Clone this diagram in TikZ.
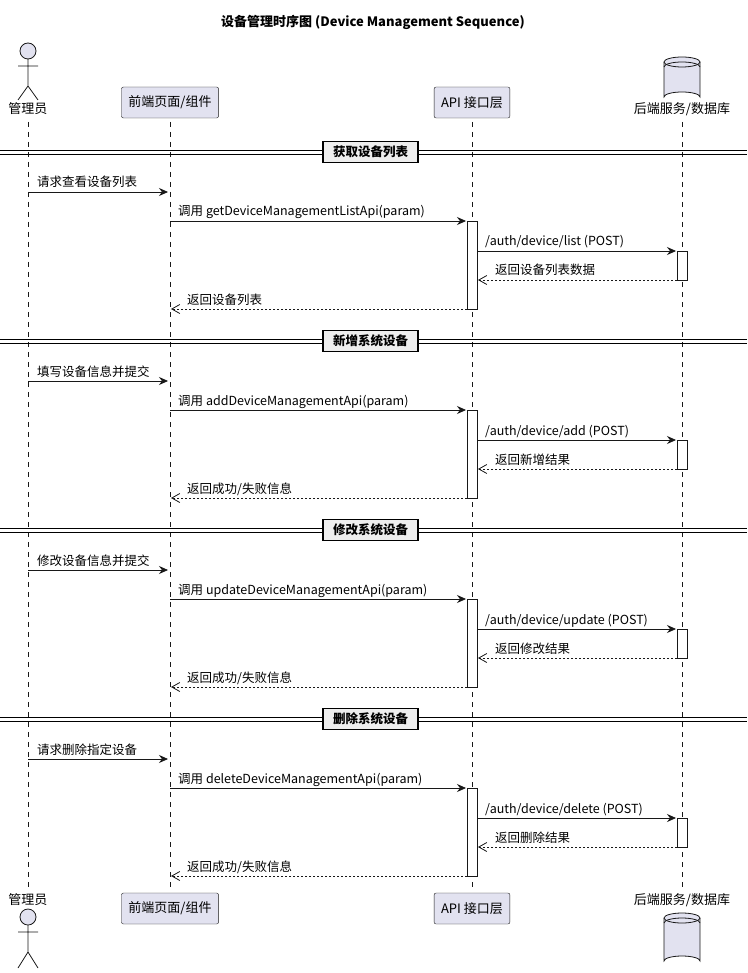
\documentclass[tikz,border=0pt]{standalone}
\usepackage{fontspec}
\setmainfont{Noto Sans CJK SC}
\usetikzlibrary{arrows.meta,shapes.geometric}
\definecolor{pfill}{HTML}{E2E2F0}
\definecolor{pline}{HTML}{181818}
\definecolor{dfill}{HTML}{EEEEEE}
\def\sl{/}
\tikzset{
 part/.style={draw=pline,fill=pfill,rounded corners=2pt,minimum height=31pt,inner xsep=7pt,font=\fontsize{13}{15}\selectfont},
 life/.style={draw=pline,dash pattern=on 5pt off 5pt,line width=0.5pt},
 msg/.style={draw=pline,line width=0.8pt,-{Stealth[length=9pt,width=8pt,inset=3pt]}},
 ret/.style={draw=pline,line width=0.8pt,dash pattern=on 2pt off 2pt,-{Straight Barb[length=8pt,width=9pt]}},
 lab/.style={font=\fontsize{12.5}{14}\selectfont,anchor=base west,inner sep=0pt},
 act/.style={draw=pline,fill=white,line width=0.8pt},
 divbox/.style={draw=black,fill=dfill,line width=1.2pt,font=\bfseries\fontsize{12.5}{14}\selectfont,minimum width=95pt,minimum height=21pt,inner sep=2pt},
 actlab/.style={font=\fontsize{13}{15}\selectfont}
}
\begin{document}
\begin{tikzpicture}[x=1pt,y=-1pt]
\useasboundingbox (0,0) rectangle (747,973);
\node[font=\bfseries\fontsize{13}{15}\selectfont] (title) at (373,22) {设备管理时序图 (Device Management Sequence)};
% lifelines
\foreach \x in {28,170,472,682}{\draw[life] (\x,122) -- (\x,888);}
% top participants
\node[part] (fe) at (170,102.5) {前端页面/组件};
\node[part] (api) at (472,102.5) {API 接口层};
\node[actlab] (adm) at (28,109) {管理员};
\node[actlab] (db) at (682,109) {后端服务/数据库};
\draw[pline,fill=pfill,line width=0.8pt] (28,51) circle (8);
\draw[pline,line width=0.8pt] (28,59)--(28,86) (18,66)--(38,66) (18,100)--(28,86)--(38,100);
\draw[pline,fill=pfill,line width=0.8pt] (664,62) -- (664,97) arc[start angle=180,end angle=360,x radius=18,y radius=5] -- (700,62);
\draw[pline,fill=pfill,line width=0.8pt] (682,62) ellipse[x radius=18,y radius=5];
\draw[pline,line width=0.8pt] (664,67) arc[start angle=180,end angle=360,x radius=18,y radius=5];
% bottom participants
\node[part] (fe2) at (170,908.5) {前端页面/组件};
\node[part] (api2) at (472,908.5) {API 接口层};
\node[actlab] (adm2) at (28,900) {管理员};
\node[actlab] (db2) at (682,900) {后端服务/数据库};
\draw[pline,fill=pfill,line width=0.8pt] (28,917) circle (8);
\draw[pline,line width=0.8pt] (28,925)--(28,952) (18,932)--(38,932) (18,968)--(28,952)--(38,968);
\draw[pline,fill=pfill,line width=0.8pt] (664,918) -- (664,961) arc[start angle=180,end angle=360,x radius=18,y radius=5] -- (700,918);
\draw[pline,fill=pfill,line width=0.8pt] (682,918) ellipse[x radius=18,y radius=5];
\draw[pline,line width=0.8pt] (664,923) arc[start angle=180,end angle=360,x radius=18,y radius=5];
% sections
\foreach \s/\t/\a/\b/\c/\d [count=\i from 0] in {
 获取设备列表/请求查看设备列表/getDeviceManagementListApi/list/返回设备列表数据/返回设备列表,
 新增系统设备/填写设备信息并提交/addDeviceManagementApi/add/返回新增结果/返回成功\sl 失败信息,
 修改系统设备/修改设备信息并提交/updateDeviceManagementApi/update/返回修改结果/返回成功\sl 失败信息,
 删除系统设备/请求删除指定设备/deleteDeviceManagementApi/delete/返回删除结果/返回成功\sl 失败信息}{
 \pgfmathsetmacro{\o}{189*\i}
 \begin{scope}[yshift=-\o pt]
 \draw[black,line width=0.9pt] (0,150)--(747,150) (0,154)--(747,154);
 \node[divbox] (sec\i) at (370.5,152) {\s};
 \draw[act] (467,221) rectangle (477,309);
 \draw[act] (677,251) rectangle (687,280);
 \coordinate (a\i) at (28,192); \coordinate (f\i) at (168,192);
 \draw[msg] (a\i) -- (f\i);
 \node[lab] at (37,187) {\t};
 \draw[msg] (170,221) -- (466,221);
 \node[lab] at (178,216) {调用 \a(param)};
 \draw[msg] (477,251) -- (676,251);
 \node[lab] at (485,246) {/auth/device/\b\ (POST)};
 \draw[ret] (677,280) -- (478,280);
 \node[lab] at (495,275) {\c};
 \draw[ret] (467,309) -- (171,309);
 \node[lab] at (187,304) {\d};
 \end{scope}
}
\end{tikzpicture}
\end{document}
